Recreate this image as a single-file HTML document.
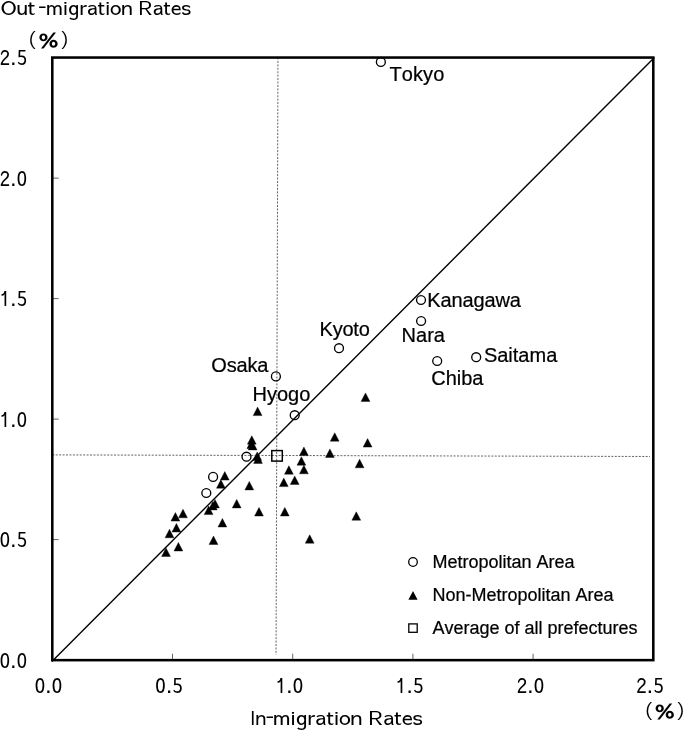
<!DOCTYPE html>
<html lang="en"><head><meta charset="utf-8"><title>Migration Rates</title>
<style>
html,body{margin:0;padding:0;background:#fff;}
body{width:685px;height:730px;overflow:hidden;}
svg{display:block;font-kerning:none;}
.ax{font-family:"Sawarabi Gothic","IPAPGothic","IPAGothic","Liberation Sans",sans-serif;font-size:20px;fill:#000;}
.pc{font-family:"IPAGothic","IPAPGothic",sans-serif;font-size:20px;fill:#000;}
.pm{font-weight:bold;font-size:17px;}
.tt{font-size:17.8px;}
.lb{font-family:"Liberation Sans",sans-serif;font-size:20px;fill:#000;stroke:#000;stroke-width:0.22px;}
.lg{font-family:"Liberation Sans",sans-serif;font-size:18px;fill:#000;stroke:#000;stroke-width:0.22px;}
</style></head><body>
<svg width="685" height="730" viewBox="0 0 685 730">
<rect width="685" height="730" fill="#fff"/>
<line x1="277.97" y1="57.5" x2="276.04" y2="654.8" stroke="#5c5c5c" stroke-width="0.95" stroke-dasharray="2 1.43"/>
<line x1="52.3" y1="454.89" x2="650" y2="456.49" stroke="#5c5c5c" stroke-width="0.95" stroke-dasharray="2 1.43"/>
<line x1="172.5" y1="660.1" x2="172.5" y2="653.7" stroke="#333" stroke-width="0.75"/>
<line x1="52.3" y1="539.6" x2="58.7" y2="539.6" stroke="#333" stroke-width="0.75"/>
<line x1="292.7" y1="660.1" x2="292.7" y2="653.7" stroke="#333" stroke-width="0.75"/>
<line x1="52.3" y1="419.1" x2="58.7" y2="419.1" stroke="#333" stroke-width="0.75"/>
<line x1="412.9" y1="660.1" x2="412.9" y2="653.7" stroke="#333" stroke-width="0.75"/>
<line x1="52.3" y1="298.6" x2="58.7" y2="298.6" stroke="#333" stroke-width="0.75"/>
<line x1="533.1" y1="660.1" x2="533.1" y2="653.7" stroke="#333" stroke-width="0.75"/>
<line x1="52.3" y1="178.1" x2="58.7" y2="178.1" stroke="#333" stroke-width="0.75"/>
<line x1="51.90" y1="661.60" x2="654.4" y2="57.55" stroke="#000" stroke-width="1.4"/>
<rect x="52.3" y="57.55" width="601.0" height="602.6" fill="none" stroke="#000" stroke-width="2.55"/>
<g fill="#000" stroke="#000" stroke-width="0.4" stroke-linejoin="round">
<path d="M257.6 407.1L262.0 415.6L253.2 415.6Z"/>
<path d="M251.8 435.8L256.2 444.2L247.4 444.2Z"/>
<path d="M251.3 440.1L255.7 448.6L246.9 448.6Z"/>
<path d="M252.6 441.4L257.0 449.9L248.2 449.9Z"/>
<path d="M257.2 451.9L261.6 460.4L252.8 460.4Z"/>
<path d="M258.0 454.9L262.4 463.4L253.6 463.4Z"/>
<path d="M224.8 471.6L229.2 480.1L220.4 480.1Z"/>
<path d="M220.9 479.8L225.3 488.2L216.5 488.2Z"/>
<path d="M249.3 481.4L253.7 489.9L244.9 489.9Z"/>
<path d="M215.0 499.4L219.4 507.9L210.6 507.9Z"/>
<path d="M212.8 501.4L217.2 509.9L208.4 509.9Z"/>
<path d="M208.6 506.1L213.0 514.6L204.2 514.6Z"/>
<path d="M236.7 499.4L241.1 507.9L232.3 507.9Z"/>
<path d="M259.0 507.4L263.4 516.0L254.6 516.0Z"/>
<path d="M183.0 509.2L187.4 517.8L178.6 517.8Z"/>
<path d="M175.4 512.6L179.8 521.1L171.0 521.1Z"/>
<path d="M176.4 523.5L180.8 532.0L172.0 532.0Z"/>
<path d="M169.5 529.2L173.9 537.8L165.1 537.8Z"/>
<path d="M222.4 518.5L226.8 527.0L218.0 527.0Z"/>
<path d="M213.5 536.0L217.9 544.5L209.1 544.5Z"/>
<path d="M178.4 542.5L182.8 551.0L174.0 551.0Z"/>
<path d="M166.0 547.9L170.4 556.4L161.6 556.4Z"/>
<path d="M284.8 507.4L289.2 516.0L280.4 516.0Z"/>
<path d="M283.8 478.1L288.2 486.6L279.4 486.6Z"/>
<path d="M294.7 475.9L299.1 484.4L290.3 484.4Z"/>
<path d="M288.9 465.8L293.3 474.2L284.5 474.2Z"/>
<path d="M303.9 465.2L308.3 473.8L299.5 473.8Z"/>
<path d="M301.4 456.8L305.8 465.2L297.0 465.2Z"/>
<path d="M303.9 447.1L308.3 455.6L299.5 455.6Z"/>
<path d="M329.9 448.9L334.3 457.4L325.5 457.4Z"/>
<path d="M334.7 432.8L339.1 441.2L330.3 441.2Z"/>
<path d="M359.6 459.2L364.0 467.8L355.2 467.8Z"/>
<path d="M367.6 438.6L372.0 447.1L363.2 447.1Z"/>
<path d="M365.5 392.9L369.9 401.4L361.1 401.4Z"/>
<path d="M356.3 511.8L360.7 520.2L351.9 520.2Z"/>
<path d="M309.7 534.8L314.1 543.2L305.3 543.2Z"/>
</g>
<g fill="none" stroke="#000" stroke-width="1.35">
<circle cx="380.85" cy="61.9" r="4.45"/>
<circle cx="421.0" cy="300.0" r="4.45"/>
<circle cx="421.1" cy="321.0" r="4.45"/>
<circle cx="476.2" cy="357.2" r="4.45"/>
<circle cx="437.2" cy="361.0" r="4.45"/>
<circle cx="339.0" cy="348.2" r="4.45"/>
<circle cx="275.9" cy="376.4" r="4.45"/>
<circle cx="294.7" cy="415.2" r="4.45"/>
<circle cx="246.5" cy="456.7" r="4.45"/>
<circle cx="213.1" cy="476.9" r="4.45"/>
<circle cx="206.3" cy="493.0" r="4.45"/>
<rect x="271.8" y="450.6" width="10.5" height="10.5" fill="none" stroke-width="1.5"/>
</g>
<text class="lb" x="389.4" y="80.6" letter-spacing="0.1">Tokyo</text>
<text class="lb" x="427.2" y="306.5" letter-spacing="-0.12">Kanagawa</text>
<text class="lb" x="401.6" y="342.1">Nara</text>
<text class="lb" x="483.9" y="362.1">Saitama</text>
<text class="lb" x="431.2" y="385.0">Chiba</text>
<text class="lb" x="319.5" y="335.6" letter-spacing="-0.2">Kyoto</text>
<text class="lb" x="211.3" y="372.3" letter-spacing="-0.2">Osaka</text>
<text class="lb" x="252.5" y="400.8">Hyogo</text>
<circle cx="413" cy="562" r="4.3" fill="#fff" stroke="#000" stroke-width="1.3"/>
<path d="M413.0 590.9L417.6 599.7L408.4 599.7Z" fill="#000"/>
<rect x="408.8" y="623.9" width="8.4" height="8.4" fill="#fff" stroke="#000" stroke-width="1.3"/>
<text class="lg" x="432.5" y="567.8">Metropolitan Area</text>
<text class="lg" x="432.5" y="600.7">Non-Metropolitan Area</text>
<text class="lg" x="432.5" y="633.6">Average of all prefectures</text>
<text class="ax" x="34.4" y="692.5" textLength="28" lengthAdjust="spacingAndGlyphs">0.0</text>
<text class="ax" x="155.0" y="692.5" textLength="28" lengthAdjust="spacingAndGlyphs">0.5</text>
<text class="ax" x="275.4" y="692.5" textLength="28" lengthAdjust="spacingAndGlyphs">1.0</text>
<text class="ax" x="395.6" y="692.5" textLength="28" lengthAdjust="spacingAndGlyphs">1.5</text>
<text class="ax" x="516.4" y="692.5" textLength="28" lengthAdjust="spacingAndGlyphs">2.0</text>
<text class="ax" x="635.9" y="692.5" textLength="28" lengthAdjust="spacingAndGlyphs">2.5</text>
<text class="ax" x="-0.4" y="667.6" textLength="27.6" lengthAdjust="spacingAndGlyphs">0.0</text>
<text class="ax" x="-0.4" y="547.1" textLength="27.6" lengthAdjust="spacingAndGlyphs">0.5</text>
<text class="ax" x="-0.4" y="426.6" textLength="27.6" lengthAdjust="spacingAndGlyphs">1.0</text>
<text class="ax" x="-0.4" y="306.1" textLength="27.6" lengthAdjust="spacingAndGlyphs">1.5</text>
<text class="ax" x="-0.4" y="185.6" textLength="27.6" lengthAdjust="spacingAndGlyphs">2.0</text>
<text class="ax" x="-0.4" y="65.1" textLength="27.6" lengthAdjust="spacingAndGlyphs">2.5</text>
<text class="ax tt" y="14.9"><tspan x="0.7" textLength="34.5" lengthAdjust="spacingAndGlyphs">Out</tspan><tspan x="37.9" dy="-1.8" textLength="8.6" lengthAdjust="spacingAndGlyphs">-</tspan><tspan x="46.0" dy="1.8" textLength="145.2" lengthAdjust="spacingAndGlyphs">migration Rates</tspan></text>
<text class="ax tt" y="724.5"><tspan x="250.0" textLength="16.3" lengthAdjust="spacingAndGlyphs">In</tspan><tspan x="265.5" dy="-1.8" textLength="8.6" lengthAdjust="spacingAndGlyphs">-</tspan><tspan x="273.0" dy="1.8" textLength="149.9" lengthAdjust="spacingAndGlyphs">migration Rates</tspan></text>
<text class="pc"><tspan class="pp" x="17" y="47.8">（</tspan><tspan class="pm" x="38.05" y="46.8" textLength="21" lengthAdjust="spacingAndGlyphs">％</tspan><tspan class="pp" x="60.1" y="47.8">）</tspan></text>
<text class="pc"><tspan class="pp" x="633.4" y="719.3">（</tspan><tspan class="pm" x="654.35" y="717.6" textLength="21" lengthAdjust="spacingAndGlyphs">％</tspan><tspan class="pp" x="676" y="719.3">）</tspan></text>
</svg></body></html>
